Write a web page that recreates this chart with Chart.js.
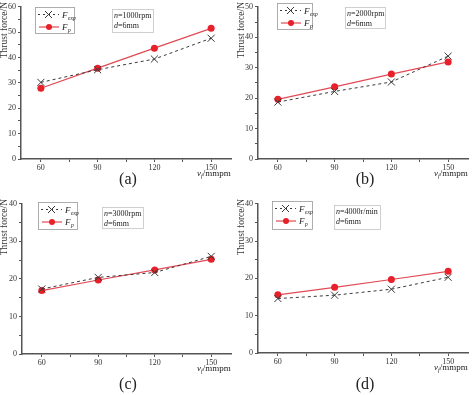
<!DOCTYPE html>
<html><head><meta charset="utf-8">
<script src="https://cdn.jsdelivr.net/npm/chart.js@4/dist/chart.umd.min.js"></script>
<style>
html,body{margin:0;padding:0;background:#fff;width:474px;height:395px;overflow:hidden}
.p{position:absolute}
canvas{display:block}
</style></head><body>
<div class="p" style="left:0;top:0"><canvas id="c0" width="237" height="197"></canvas></div>
<div class="p" style="left:237px;top:0"><canvas id="c1" width="237" height="197"></canvas></div>
<div class="p" style="left:0;top:197px"><canvas id="c2" width="237" height="198"></canvas></div>
<div class="p" style="left:237px;top:197px"><canvas id="c3" width="237" height="198"></canvas></div>
<script>
// ---- data ----
const feedRates = [60, 90, 120, 150];
const expA = [30.2, 35.2, 39.4, 47.6];
const predA = [27.9, 35.8, 43.7, 51.5];
const expB = [18.7, 22.2, 25.3, 33.8];
const predB = [19.6, 23.7, 27.9, 31.9];
const expC = [17.3, 20.4, 21.7, 26.0];
const predC = [16.9, 19.7, 22.4, 25.2];
const expD = [14.6, 15.5, 17.1, 20.3];
const predD = [15.6, 17.6, 19.7, 21.9];
const yMaxes = [60, 50, 40, 40];
const panelLabels = ['(a)', '(b)', '(c)', '(d)'];
const speedTexts = ['=1000rpm', '=2000rpm', '=3000rpm', '=4000r/min'];
const depthText = '=6mm';
const yTitle = 'Thrust force/N';
const xTitleUnit = '/mmpm';

const expSeries = [expA, expB, expC, expD];
const predSeries = [predA, predB, predC, predD];

// layout (per panel, canvas-relative)
const layouts = [
  {top:4, right:6, left:21, bottom:159, lbl:184, leg:[35,7,39,26], ann:[112,9,41,23]},
  {top:5, right:6, left:21, bottom:159, lbl:184, leg:[40,3,35,26], ann:[108,7,40,21]},
  {top:4, right:6, left:22, bottom:157, lbl:192, leg:[38,5,39,27], ann:[102,10,41,21]},
  {top:4, right:5, left:21, bottom:156, lbl:192, leg:[35,4,40,28], ann:[97,8,46,24]}
];

const SERIF = '"Liberation Serif", "DejaVu Serif", serif';
const EXP_COLOR = '#3a3a3a';
const PRED_COLOR = '#e8202a';
const PRED_LINE = '#e24a55';

function drawX(ctx, x, y, r) {
  ctx.beginPath();
  ctx.moveTo(x - r, y - r); ctx.lineTo(x + r, y + r);
  ctx.moveTo(x - r, y + r); ctx.lineTo(x + r, y - r);
  ctx.stroke();
}

function makePlugin(i) {
  const L = layouts[i];
  return {
    id: 'decor' + i,
    afterDraw(chart) {
      const ctx = chart.ctx;
      const ca = chart.chartArea;
      ctx.save();
      ctx.fillStyle = '#222';
      // y title
      ctx.save();
      ctx.fillStyle = '#333';
      ctx.font = '9.5px ' + SERIF;
      ctx.translate(4, 2);
      ctx.rotate(-Math.PI / 2);
      ctx.textAlign = 'right';
      ctx.textBaseline = 'middle';
      ctx.fillText(yTitle, 0, 0);
      ctx.restore();
      // x title
      let xx = ca.right - 34, yy = ca.bottom + 17;
      ctx.textBaseline = 'alphabetic';
      ctx.textAlign = 'left';
      ctx.font = 'italic 9px ' + SERIF;
      ctx.fillText('v', xx, yy);
      xx += ctx.measureText('v').width;
      ctx.font = 'italic 6px ' + SERIF;
      ctx.fillText('f', xx, yy + 2);
      xx += ctx.measureText('f').width;
      ctx.font = '9px ' + SERIF;
      ctx.fillText(xTitleUnit, xx, yy);
      // panel label
      ctx.font = '16px ' + SERIF;
      ctx.textAlign = 'center';
      ctx.fillText(panelLabels[i], 128, L.lbl);
      // legend box
      const [lx, ly, lw, lh] = L.leg;
      ctx.strokeStyle = '#9a9a9a';
      ctx.lineWidth = 0.8;
      ctx.strokeRect(lx + 0.5, ly + 0.5, lw, lh);
      const r1 = ly + 7.5, r2 = ly + 20;
      ctx.strokeStyle = EXP_COLOR;
      ctx.lineWidth = 1;
      ctx.setLineDash([2, 3]);
      ctx.beginPath(); ctx.moveTo(lx + 3, r1); ctx.lineTo(lx + 24, r1); ctx.stroke();
      ctx.setLineDash([]);
      drawX(ctx, lx + 13.5, r1, 3.5);
      ctx.strokeStyle = PRED_LINE;
      ctx.lineWidth = 1.2;
      ctx.beginPath(); ctx.moveTo(lx + 4, r2); ctx.lineTo(lx + 24, r2); ctx.stroke();
      ctx.fillStyle = PRED_COLOR;
      ctx.beginPath(); ctx.arc(lx + 14, r2, 3, 0, Math.PI * 2); ctx.fill();
      ctx.fillStyle = '#222';
      ctx.textAlign = 'left';
      ctx.font = 'italic 9px ' + SERIF;
      ctx.fillText('F', lx + 27, r1 + 3);
      ctx.fillText('F', lx + 27, r2 + 3);
      ctx.font = 'italic 5.5px ' + SERIF;
      ctx.fillText('exp', lx + 33, r1 + 5);
      ctx.fillText('p', lx + 33, r2 + 5);
      // annotation box
      const [ax, ay, aw, ah] = L.ann;
      ctx.strokeStyle = '#c4c4c4';
      ctx.lineWidth = 0.8;
      ctx.strokeRect(ax + 0.5, ay + 0.5, aw, ah);
      ctx.font = 'italic 8px ' + SERIF;
      ctx.fillText('n', ax + 2, ay + 9);
      ctx.fillText('d', ax + 2, ay + 19);
      let w1 = ctx.measureText('n').width, w2 = ctx.measureText('d').width;
      ctx.font = '8px ' + SERIF;
      ctx.fillText(speedTexts[i], ax + 2 + w1, ay + 9);
      ctx.fillText(depthText, ax + 2 + w2, ay + 19);
      ctx.restore();
    }
  };
}

function makeChart(i) {
  const L = layouts[i];
  const canvas = document.getElementById('c' + i);
  const H = canvas.height;
  const yMax = yMaxes[i];
  new Chart(canvas, {
    type: 'line',
    data: {
      datasets: [
        {
          label: 'F_exp',
          data: feedRates.map((x, k) => ({x: x, y: expSeries[i][k]})),
          borderColor: EXP_COLOR,
          borderWidth: 1,
          borderDash: [3, 3],
          pointStyle: 'crossRot',
          pointRadius: 5,
          pointBorderWidth: 1,
          pointBorderColor: EXP_COLOR,
          pointBackgroundColor: EXP_COLOR,
          fill: false,
          tension: 0
        },
        {
          label: 'F_p',
          data: feedRates.map((x, k) => ({x: x, y: predSeries[i][k]})),
          borderColor: PRED_LINE,
          borderWidth: 1.2,
          pointStyle: 'circle',
          pointRadius: 3.5,
          pointBorderWidth: 0,
          pointBackgroundColor: PRED_COLOR,
          fill: false,
          tension: 0
        }
      ]
    },
    options: {
      responsive: false,
      animation: false,
      events: [],
      layout: {padding: {top: L.top, right: L.right, left: 0, bottom: 0}},
      plugins: {legend: {display: false}, tooltip: {enabled: false}},
      scales: {
        x: {
          type: 'linear',
          min: 49.5, max: 160.5,
          afterBuildTicks(s) { s.ticks = [60, 75, 90, 105, 120, 135, 150].map(v => ({value: v})); },
          afterFit(s) { s.height = H - L.bottom; },
          border: {color: '#555', width: 1.5},
          grid: {drawOnChartArea: false, drawTicks: true, tickLength: 3, color: '#555', lineWidth: 1},
          ticks: {
            autoSkip: false, maxRotation: 0, padding: 1,
            color: '#333', font: {family: SERIF, size: 8},
            callback: v => (v % 30 === 0 ? String(v) : '')
          }
        },
        y: {
          type: 'linear',
          min: 0, max: yMax,
          afterBuildTicks(s) {
            const t = [];
            for (let v = 0; v <= yMax; v += 5) t.push({value: v});
            s.ticks = t;
          },
          afterFit(s) { s.width = L.left; },
          border: {color: '#555', width: 1.5},
          grid: {drawOnChartArea: false, drawTicks: true, tickLength: 3, color: '#555', lineWidth: 1},
          ticks: {
            autoSkip: false, padding: 2,
            color: '#333', font: {family: SERIF, size: 8},
            callback: v => (v % 10 === 0 ? String(v) : '')
          }
        }
      }
    },
    plugins: [makePlugin(i)]
  });
}

for (let i = 0; i < 4; i++) makeChart(i);
</script>
</body></html>
